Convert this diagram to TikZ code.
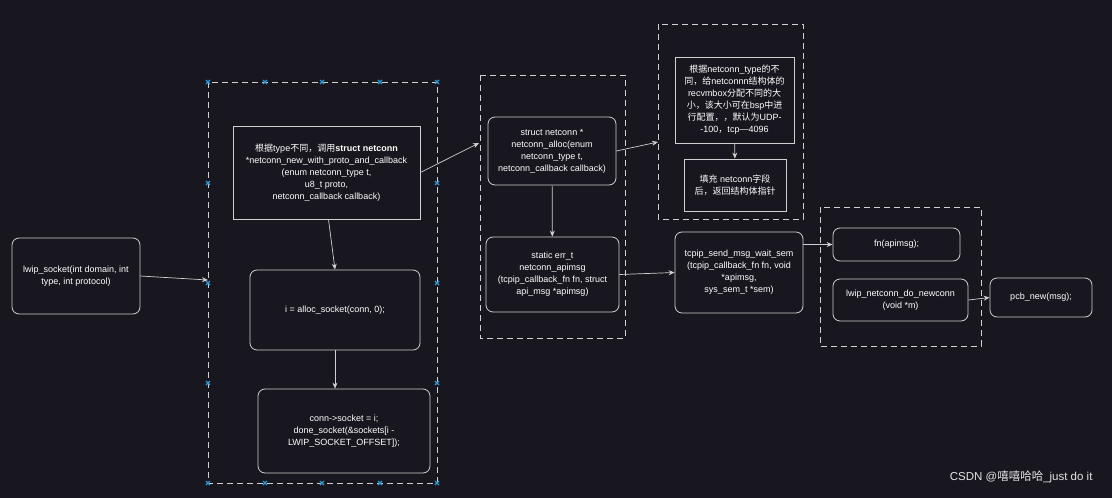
\documentclass[tikz,border=0pt]{standalone}
\usepackage{fontspec}
\setmainfont{Liberation Sans}
\newfontfamily\cjk{Noto Sans CJK SC}
\newcommand{\zh}[1]{{\cjk #1}}
\usetikzlibrary{arrows.meta}
\definecolor{bg}{HTML}{18161E}
\definecolor{ln}{HTML}{D0D0D0}
\definecolor{xb}{HTML}{2E9BD6}
\begin{document}
\begin{tikzpicture}[x=1pt,y=-1pt,
  every node/.style={text=white,font=\fontsize{9}{12}\selectfont,align=center},
  bx/.style={draw=ln,line width=0.8pt,inner sep=0pt},
  rb/.style={bx,rounded corners=7pt},
  grp/.style={draw=ln,line width=0.7pt,dash pattern=on 6pt off 4pt},
  ar/.style={draw=ln,line width=0.7pt,-{Stealth[length=6pt,width=5pt]}},
  xm/.style={draw=xb,line width=1.2pt}]
\fill[bg] (0,0) rectangle (1112,498);
\useasboundingbox (0,0) rectangle (1112,498);
% groups
\draw[grp] (208,82) rectangle (437,483);
\draw[grp] (480,75) rectangle (625,338);
\draw[grp] (658,24) rectangle (803,219);
\draw[grp] (820,207) rectangle (981,346);
\foreach \p in {(208,82),(265,82),(322,82),(380,82),(437,82),(208,483),(265,483),(322,483),(380,483),(437,483),(208,183),(208,283),(208,383),(437,183),(437,283),(437,383)}{
  \draw[xm] \p ++(-2,-2) -- ++(4,4) \p ++(-2,2) -- ++(4,-4);}
% nodes
\node[rb,minimum width=128pt,minimum height=76pt] (s) at (76,276) {lwip\_socket(int domain, int\\type, int protocol)};
\coordinate (g1) at (208,280);
\node[bx,minimum width=187pt,minimum height=93pt] (a) at (326.5,172.5) {\zh{根据}type\zh{不同，调用}\textbf{struct netconn}\\*netconn\_new\_with\_proto\_and\_callback\\(enum netconn\_type t,\\u8\_t proto,\\netconn\_callback callback)};
\node[rb,minimum width=170pt,minimum height=80pt] (b) at (335,310) {i = alloc\_socket(conn, 0);};
\node[rb,minimum width=172pt,minimum height=84pt] (c) at (344,431) {conn-{>}socket = i;\\done\_socket(\&sockets[i -\\LWIP\_SOCKET\_OFFSET]);};
\coordinate (g2) at (479,143);
\node[rb,minimum width=128pt,minimum height=68pt] (d) at (552,151) {struct netconn *\\netconn\_alloc(enum\\netconn\_type t,\\netconn\_callback callback)};
\node[rb,minimum width=133pt,minimum height=75pt] (e) at (552.5,274.5) {static err\_t\\netconn\_apimsg\\(tcpip\_callback\_fn fn, struct\\api\_msg *apimsg)};
\coordinate (g3) at (658,142);
\node[bx,minimum width=119pt,minimum height=86pt] (f) at (734.5,100) {\zh{根据}netconn\_type\zh{的不}\\\zh{同，给}netconnn\zh{结构体的}\\recvmbox\zh{分配不同的大}\\\zh{小，该大小可在}bsp\zh{中进}\\\zh{行配置，，默认为}UDP-\\-100\zh{，}tcp---4096};
\node[bx,minimum width=102pt,minimum height=52pt] (g) at (735,185) {\zh{填充} netconn\zh{字段}\\\zh{后，返回结构体指针}};
\node[rb,minimum width=128pt,minimum height=81pt] (h) at (739,272.5) {tcpip\_send\_msg\_wait\_sem\\(tcpip\_callback\_fn fn, void\\*apimsg,\\sys\_sem\_t *sem)};
\node[rb,minimum width=127pt,minimum height=33pt] (i) at (896.5,244.5) {fn(apimsg);};
\node[rb,minimum width=135pt,minimum height=42pt] (j) at (900.5,300) {lwip\_netconn\_do\_newconn\\(void *m)};
\node[rb,minimum width=102pt,minimum height=39pt] (k) at (1041,297.5) {pcb\_new(msg);};
\node[text=white!80!gray,font=\fontsize{11.5}{13}\selectfont,anchor=east] (w) at (1096,477) {CSDN @\zh{嘻嘻哈哈}\_just do it};
% arrows
\draw[ar] (s.east) -- (g1);
\draw[ar] (a.east) -- (g2);
\draw[ar] (a.south) ++(2,0) -- (b.north);
\draw[ar] (b.south) -- (c.north -| b.south);
\draw[ar] (d) -- (e);
\draw[ar] (d.east) -- (g3);
\draw[ar] (f) -- (g);
\draw[ar] (e.east) -- (h.west);
\draw[ar] (h.east |- i) -- (i.west);
\draw[ar] (j.east) -- (k.west);
\end{tikzpicture}
\end{document}
